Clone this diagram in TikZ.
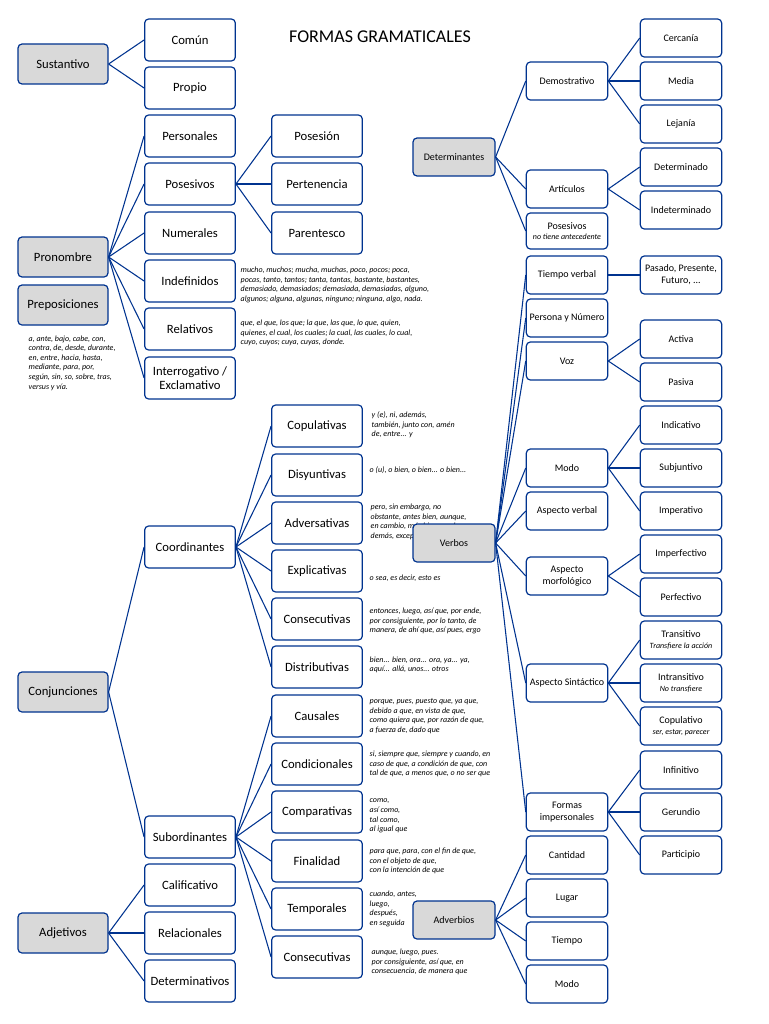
\documentclass[tikz,border=0pt]{standalone}
\usepackage{fontspec}
\setmainfont{Carlito}
\begin{document}
\begin{tikzpicture}[x=0.75pt,y=-0.75pt,
 bb/.style={draw=blue!45!black!80!cyan, line width=0.9pt, rounded corners=3pt, align=center, inner sep=1pt},
 gbox/.style={bb, fill=black!15, minimum width=67.5pt, minimum height=30pt, font=\fontsize{9.5}{11}\selectfont},
 gsbox/.style={bb, fill=black!15, minimum width=61.5pt, minimum height=28.5pt, font=\fontsize{7.5}{9}\selectfont},
 wbox/.style={bb, fill=white, minimum width=68pt, minimum height=31.5pt, font=\fontsize{9.5}{11}\selectfont},
 sbox/.style={bb, fill=white, minimum width=61pt, minimum height=28.5pt, font=\fontsize{7.5}{9}\selectfont},
 note/.style={anchor=west, align=left, font=\fontsize{6}{7.2}\selectfont\itshape},
 ln/.style={draw=blue!45!black!80!cyan, line width=0.8pt}]
\useasboundingbox (0,0) rectangle (768,1024);
\node[font=\fontsize{13.5}{15}\selectfont] (title) at (380,37) {FORMAS GRAMATICALES};
% left roots
\node[gbox] (sus) at (63,64) {Sustantivo};
\node[gbox] (pro) at (63,257) {Pronombre};
\node[gbox] (pre) at (63,305) {Preposiciones};
\node[gbox] (con) at (63,692) {Conjunciones};
\node[gbox] (adj) at (63,933) {Adjetivos};
\node[note] (pren) at (24,363) {a, ante, bajo, cabe, con,\\contra, de, desde, durante,\\en, entre, hacia, hasta,\\mediante, para, por,\\según, sin, so, sobre, tras,\\versus y vía.};
% column 2
\foreach \n/\t/\y in {com/Común/40, prp/Propio/88, per/Personales/136, pos/Posesivos/184, num/Numerales/233, ind/Indefinidos/281, rel/Relativos/329, int/{Interrogativo /\\Exclamativo}/378, coo/Coordinantes/547, sub/Subordinantes/837, cal/Calificativo/885, rla/Relacionales/933, det/Determinativos/981}
 \node[wbox] (\n) at (190,\y) {\t};
\foreach \a/\b in {sus/com, sus/prp, pro/per, pro/pos, pro/num, pro/ind, pro/rel, pro/int, con/coo, con/sub, adj/cal, adj/rla, adj/det}
 \draw[ln] (\a.east) -- (\b.west);
% column 3
\foreach \n/\t/\y in {pse/Posesión/136, pte/Pertenencia/184, par/Parentesco/233, c1/Copulativas/426, c2/Disyuntivas/475, c3/Adversativas/523, c4/Explicativas/571, c5/Consecutivas/619, c6/Distributivas/667, s1/Causales/716, s2/Condicionales/764, s3/Comparativas/812, s4/Finalidad/861, s5/Temporales/909, s6/Consecutivas/957}
 \node[wbox] (\n) at (317,\y) {\t};
\foreach \b in {pse,pte,par} \draw[ln] (pos.east) -- (\b.west);
\foreach \b in {c1,c2,c3,c4,c5,c6} \draw[ln] (coo.east) -- (\b.west);
\foreach \b in {s1,s2,s3,s4,s5,s6} \draw[ln] (sub.east) -- (\b.west);
\node[note] (nind) at (236,285) {mucho, muchos; mucha, muchas, poco, pocos; poca,\\pocas, tanto, tantos; tanta, tantas, bastante, bastantes,\\demasiado, demasiados; demasiada, demasiadas, alguno,\\algunos; alguna, algunas, ninguno; ninguna, algo, nada.};
\node[note] (nrel) at (236,333) {que, el que, los que; la que, las que, lo que, quien,\\quienes, el cual, los cuales; la cual, las cuales, lo cual,\\cuyo, cuyos; cuya, cuyas, donde.};
\node[note] (n1) at (367,425) {y (e), ni, además,\\también, junto con, amén\\de, entre... y};
\node[note] (n2) at (365,470) {o (u), o bien, o bien... o bien...};
\node[note] (n3) at (366,522) {pero, sin embargo, no\\obstante, antes bien, aunque,\\en cambio, más bien, por lo\\demás, excepto, sino};
% right
\node[gsbox] (dets) at (454,157) {Determinantes};
\node[gsbox] (verb) at (454,543) {Verbos};
\node[gsbox] (adv) at (454,920) {Adverbios};
\node[note] (n4) at (365,578) {o sea, es decir, esto es};
\node[note] (n5) at (365,621) {entonces, luego, así que, por ende,\\por consiguiente, por lo tanto, de\\manera, de ahí que, así pues, ergo};
\node[note] (n6) at (365,665) {bien... bien, ora... ora, ya... ya,\\aquí... allá, unos... otros};
\node[note] (n7) at (365,716) {porque, pues, puesto que, ya que,\\debido a que, en vista de que,\\como quiera que, por razón de que,\\a fuerza de, dado que};
\node[note] (n8) at (365,764) {si, siempre que, siempre y cuando, en\\caso de que, a condición de que, con\\tal de que, a menos que, o no ser que};
\node[note] (n9) at (365,816) {como,\\así como,\\tal como,\\al igual que};
\node[note] (n10) at (365,861) {para que, para, con el fin de que,\\con el objeto de que,\\con la intención de que};
\node[note] (n11) at (365,909) {cuando, antes,\\luego,\\después,\\en seguida};
\node[note] (n12) at (367,962) {aunque, luego, pues.\\por consiguiente, así que, en\\consecuencia, de manera que};
% column 4
\foreach \n/\t/\y in {dem/Demostrativo/81, art/Artículos/189, tv/Tiempo verbal/275, pn/Persona y Número/318, voz/Voz/361, mod/Modo/468, av/Aspecto verbal/511, am/{Aspecto\\morfológico}/576, as/Aspecto Sintáctico/683, fi/{Formas\\impersonales}/812, can/Cantidad/855, lug/Lugar/898, tie/Tiempo/941, mo2/Modo/984}
 \node[sbox] (\n) at (567,\y) {\t};
\node[sbox, minimum height=27pt] (pdt) at (567,231) {Posesivos\\[-1pt]{\fontsize{6}{7}\selectfont\itshape no tiene antecedente}};
\foreach \b in {dem,art,pdt} \draw[ln] (dets.east) -- (\b.west);
\foreach \b in {tv,pn,voz,mod,av,am,as,fi} \draw[ln] (verb.east) -- (\b.west);
\foreach \b in {can,lug,tie,mo2} \draw[ln] (adv.east) -- (\b.west);
% column 5
\foreach \n/\t/\y in {cer/Cercanía/38, med/Media/81, lej/Lejanía/124, dtd/Determinado/167, ndt/Indeterminado/210, pas/{Pasado, Presente,\\Futuro, ...}/275, act/Activa/339, psv/Pasiva/382, ndi/Indicativo/425, sbj/Subjuntivo/468, imp/Imperativo/511, ipf/Imperfectivo/554, pfv/Perfectivo/597, tra/{Transitivo\\[-1pt]\hfill{\fontsize{6}{7}\selectfont\itshape Transfiere la acción}}/640, itr/{Intransitivo\\[-1pt]{\fontsize{6}{7}\selectfont\itshape No transfiere}}/683, cop/{Copulativo\\[-1pt]{\fontsize{6}{7}\selectfont\itshape ser, estar, parecer}}/726, inf/Infinitivo/770, ger/Gerundio/812, ptc/Participio/855}
 \node[sbox] (\n) at (681,\y) {\t};
\foreach \a/\b in {dem/cer, dem/med, dem/lej, art/dtd, art/ndt, tv/pas, voz/act, voz/psv, mod/ndi, mod/sbj, mod/imp, am/ipf, am/pfv, as/tra, as/itr, as/cop, fi/inf, fi/ger, fi/ptc}
 \draw[ln] (\a.east) -- (\b.west);
\end{tikzpicture}
\end{document}
